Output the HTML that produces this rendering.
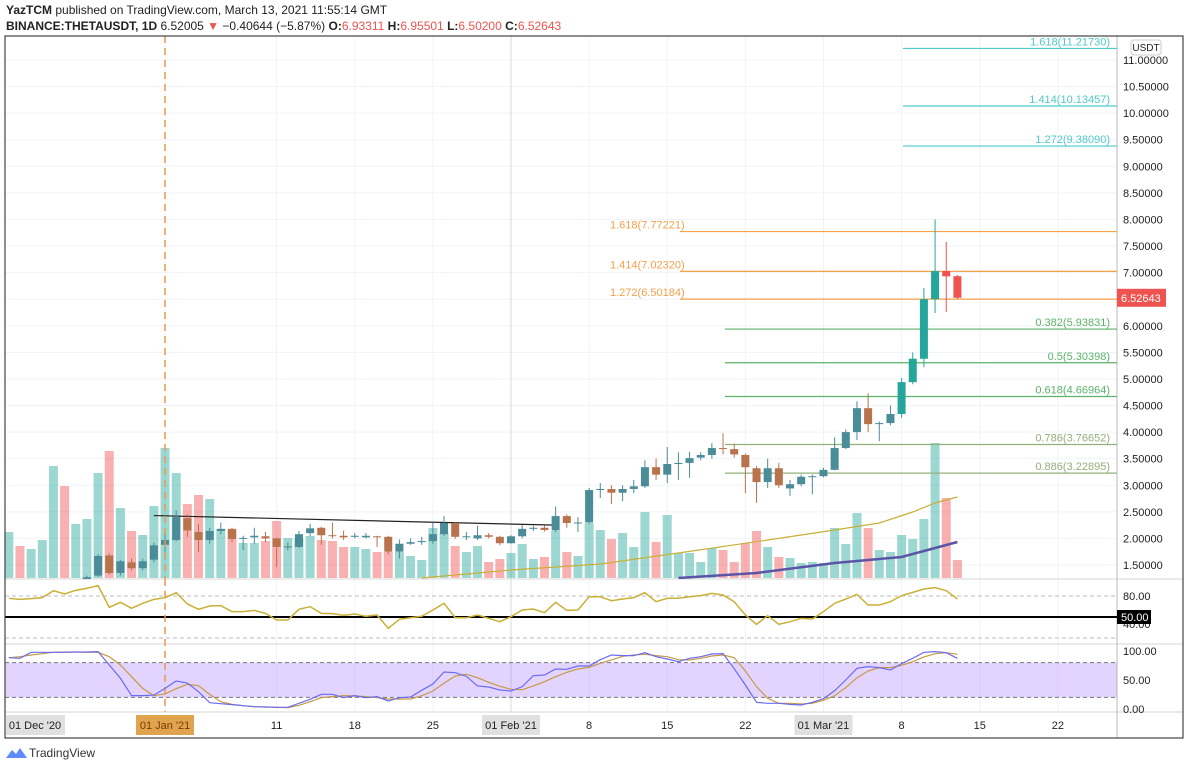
<!DOCTYPE html>
<html><head><meta charset="utf-8">
<style>
body{margin:0;background:#fff;width:1186px;height:768px;overflow:hidden;font-family:"Liberation Sans",sans-serif;}
svg{display:block}
text{font-family:"Liberation Sans",sans-serif}
</style></head>
<body>
<svg id="chart" width="1186" height="768" viewBox="0 0 1186 768">
  <text x="6" y="14" font-size="12" fill="#222"><tspan font-weight="bold">YazTCM</tspan> published on TradingView.com, March 13, 2021 11:55:14 GMT</text>
  <text x="6" y="30" font-size="12" fill="#222"><tspan font-weight="bold">BINANCE:THETAUSDT, 1D</tspan> 6.52005 <tspan fill="#ef5350">▼</tspan> −0.40644 (−5.87%) <tspan font-weight="bold">O:</tspan><tspan fill="#ef5350">6.93311</tspan> <tspan font-weight="bold">H:</tspan><tspan fill="#ef5350">6.95501</tspan> <tspan font-weight="bold">L:</tspan><tspan fill="#ef5350">6.50200</tspan> <tspan font-weight="bold">C:</tspan><tspan fill="#ef5350">6.52643</tspan></text>
  <defs>
    <clipPath id="mainClip"><rect x="5" y="36" width="1112" height="543"/></clipPath>
    <clipPath id="paneClip"><rect x="5" y="36" width="1112" height="676"/></clipPath>
  </defs>
  <g id="grid"></g>
  <g id="stochBand"></g>
  <g id="volume" clip-path="url(#mainClip)"></g>
  <g id="fibs" clip-path="url(#mainClip)"></g>
  <g id="candles" clip-path="url(#mainClip)"></g>
  <g id="indicators" clip-path="url(#paneClip)"></g>
  <g id="axes"></g>
  <rect x="5" y="36" width="1178" height="702" fill="none" stroke="#444" stroke-width="1.2"/>
  <g>
    <path d="M6 758 L12 750 L16 754 L20 748 L27 758 Z" fill="#2962ff" opacity="0.75"/>
    <text x="29" y="757" font-size="12" fill="#333">TradingView</text>
  </g>
</svg>
<script>
const opens=[1.05,1.10,1.06,1.08,1.12,1.18,1.15,1.22,1.30,1.68,1.35,1.55,1.44,1.60,1.88,1.97,2.38,2.12,1.97,2.14,2.18,2.00,2.02,2.04,2.00,1.84,1.84,2.10,2.20,2.06,2.05,2.03,2.02,2.04,2.03,1.75,1.90,1.93,1.95,2.08,2.29,2.03,2.00,2.06,2.03,1.91,2.04,2.18,2.20,2.15,2.42,2.29,2.30,2.91,2.93,2.86,2.93,2.98,3.34,3.20,3.40,3.42,3.52,3.57,3.70,3.68,3.57,3.32,3.06,3.32,2.94,3.02,3.16,3.17,3.29,3.70,4.00,4.45,4.15,4.17,4.34,4.94,5.38,6.50,7.03,6.933];
const highs=[1.15,1.18,1.12,1.15,1.22,1.24,1.22,1.30,1.70,1.72,1.60,1.62,1.62,1.92,2.10,2.53,2.45,2.27,2.20,2.30,2.20,2.05,2.20,2.12,2.01,1.92,2.14,2.27,2.22,2.30,2.15,2.10,2.10,2.05,2.05,1.98,2.00,2.03,2.30,2.42,2.30,2.12,2.24,2.10,2.05,2.06,2.25,2.24,2.24,2.60,2.45,2.40,2.95,3.04,3.00,3.00,3.10,3.47,3.50,3.72,3.62,3.63,3.62,3.79,3.98,3.78,3.60,3.36,3.50,3.42,3.10,3.20,3.20,3.33,3.90,4.05,4.58,4.73,4.20,4.50,5.02,5.50,6.71,8.00,7.58,6.955];
const lows=[0.98,1.02,1.00,1.03,1.08,1.10,1.10,1.18,1.28,1.32,1.30,1.40,1.40,1.55,1.60,1.95,2.03,1.74,1.90,2.08,1.93,1.78,1.90,1.93,1.46,1.78,1.82,2.04,1.88,2.00,1.97,2.00,2.00,1.84,1.70,1.62,1.88,1.88,1.90,2.05,1.99,1.97,1.97,2.00,1.87,1.90,2.00,2.14,2.13,2.12,2.20,2.12,2.28,2.76,2.65,2.70,2.85,2.95,3.10,3.04,3.10,3.14,3.47,3.50,3.58,3.52,2.85,2.67,2.95,2.95,2.80,2.98,2.83,3.15,3.28,3.68,3.85,4.00,3.83,4.13,4.27,4.90,5.22,6.24,6.26,6.502];
const closes=[1.10,1.06,1.08,1.12,1.18,1.15,1.20,1.27,1.67,1.35,1.57,1.44,1.57,1.87,1.97,2.40,2.15,1.97,2.14,2.18,1.99,2.01,2.05,2.00,1.84,1.85,2.08,2.19,2.06,2.05,2.02,2.05,2.05,2.03,1.75,1.90,1.93,1.95,2.08,2.29,2.03,2.04,2.06,2.03,1.91,2.04,2.18,2.20,2.16,2.42,2.29,2.30,2.91,2.93,2.86,2.93,2.98,3.34,3.20,3.40,3.42,3.51,3.57,3.70,3.69,3.58,3.34,3.06,3.32,3.00,3.02,3.16,3.17,3.29,3.70,4.00,4.45,4.15,4.17,4.34,4.94,5.38,6.50,7.03,6.93,6.52643];
const volumes=[46,32,29,38,112,92,54,59,105,127,70,47,43,72,130,105,74,83,79,49,49,35,35,37,57,40,40,42,38,37,31,31,29,26,26,26,22,18,50,45,32,26,32,16,19,25,34,19,21,47,26,22,55,48,39,45,31,66,36,63,25,25,16,30,28,16,35,47,31,21,20,15,16,15,50,34,65,50,28,26,43,39,59,135,80,18];
const volMaSlowIdx=[37,45,53,60,68,74,78,81,83,85];
const volMaSlowVal=[0,8,14,25,38,48,55,66,75,81];
const volMaFastIdx=[60,67,74,77,80,85];
const volMaFastVal=[0,5,15,18,21,36];
const rsiValues=[76.7,75.2,76.2,77.6,87.6,82.9,88.1,91,94.8,63.8,71,62.4,69.5,75.2,77.6,84.8,68.6,61,65.7,66.2,57.6,57.6,59.5,55.2,45.7,45.7,61,64.8,55.2,54.8,52.4,54.3,51,52.9,33.8,46.7,49,51,60,69.5,49,49,52.9,48.1,43.3,50.5,60,61.4,56.2,71,59.5,60,79,79,73.3,75.7,77.6,84.8,71.9,76.7,76.7,79,80.5,83.8,81.4,71.9,52.9,39.5,51.9,39.5,43.3,48.1,47.1,57.6,69.5,75.7,82.4,67.1,67.1,71.9,80.5,85.2,90,91.9,87.6,75.7];
const stochK=[88.5,87.4,97.7,97.7,97.7,97.7,98.3,98.3,98.9,75.9,53,23,23,24,35.6,48.3,44.8,29.9,10.9,9.2,7.5,5.7,4,3.4,2.9,2.9,9.8,16.7,25.3,25.3,19.5,23,19.5,21.3,13.8,19.5,20.7,32.2,43.1,63.8,62.6,56.3,39.7,37.9,32.8,31,38.5,57.5,58.6,69,68.4,74.1,74.1,85,93.1,92,92,97.1,90.2,86.2,81.6,87.4,90.2,94.8,95.4,69.5,41.4,11.5,9.8,9.8,8,6.9,11.5,17.8,31.6,50,70.1,73,71.3,67.2,78.2,87.4,97.7,98.9,97.1,87.4];
const stochD=[88.5,90.2,93.1,95.4,97.7,98.3,98.3,97.7,97.7,90.2,75.9,55.7,35.6,23,25.9,35.1,42.5,40.2,25.3,12.6,8,5.7,4,3.4,2.9,2.3,6.3,12.6,19.5,21.3,23,22.4,21.3,19.5,17.2,17.2,17.2,23,31,44.3,56.9,59.8,54,46,39.1,33.9,33.3,39.7,47.1,55.7,63.2,69,71.8,78.7,84.5,90.8,93.1,94.3,92,90.2,85,84.5,87.4,91.4,93.1,88.5,65.5,38.5,18.4,9.8,9.8,8.6,9.8,14.9,23,36.8,54,65.5,71.3,71.3,75.3,81.6,89.7,95.4,97.1,94.3];
const priceTicks=[1.5,2,2.5,3,3.5,4,4.5,5,5.5,6,6.5,7,7.5,8,8.5,9,9.5,10,10.5,11];
const fibCyanVals=[11.2173,10.13457,9.3809];
const fibCyanLabels=["1.618(11.21730)","1.414(10.13457)","1.272(9.38090)"];
const fibOrangeVals=[7.77221,7.0232,6.50184];
const fibOrangeLabels=["1.618(7.77221)","1.414(7.02320)","1.272(6.50184)"];
const fibGreenVals=[5.93831,5.30398,4.66964,3.76652,3.22895];
const fibGreenLabels=["0.382(5.93831)","0.5(5.30398)","0.618(4.66964)","0.786(3.76652)","0.886(3.22895)"];
const timeTickIdx=[14,24,31,38,45,52,59,66,73,80,87,94];
const timeTickLabels=["01 Jan '21","11","18","25","01 Feb '21","8","15","22","01 Mar '21","8","15","22"];
const trendStart=[13,2.43],trendEnd=[49,2.25];

const NS="http://www.w3.org/2000/svg";
const xOf=i=>8.8+i*11.16;
const yP=p=>565-(p-1.5)*53.16;
const volBase=578, volScale=1.0;
const yV=v=>volBase-v*volScale;
const rsiY=v=>617-(v-50)*0.7;
const stY=v=>709-v*0.58;
function mk(parent,tag,attrs){const e=document.createElementNS(NS,tag);for(const k in attrs)e.setAttribute(k,attrs[k]);document.getElementById(parent).appendChild(e);return e;}

// grid
priceTicks.forEach(p=>{const l=mk('grid','line',{x1:5,x2:1117,y1:yP(p),y2:yP(p),stroke:'#f0f3fa','stroke-width':1});

});
timeTickIdx.forEach((ti,k)=>{const x=xOf(ti);const l=mk('grid','line',{x1:x,x2:x,y1:36,y2:712,stroke:k===4?'#d8d8d8':'#f0f3fa','stroke-width':1});

});
// pane separators
[[579],[644],[712]].forEach(a=>{const l=mk('grid','line',{x1:5,x2:1183,y1:a[0],y2:a[0],stroke:'#d6d6d6','stroke-width':1});

});
{const l=mk('grid','line',{x1:1117,x2:1117,y1:36,y2:738,stroke:'#bbb','stroke-width':1});

}

// stoch band
{const r=mk('stochBand','rect',{x:5,y:stY(80),width:1112,height:stY(20)-stY(80),fill:'rgba(155,100,255,0.28)'});


[80,20].forEach(v=>{const l=mk('stochBand','line',{x1:5,x2:1117,y1:stY(v),y2:stY(v),stroke:'#777','stroke-dasharray':'4 3'});

});
[80,20].forEach(v=>{const l=mk('stochBand','line',{x1:5,x2:1117,y1:rsiY(v),y2:rsiY(v),stroke:'#bbb','stroke-dasharray':'4 3'});

});
const m=mk('stochBand','line',{x1:5,x2:1117,y1:rsiY(50),y2:rsiY(50),stroke:'#000','stroke-width':2});

}

// volume
volumes.forEach((v,i)=>{const up=closes[i]>=opens[i];const x=xOf(i);
const r=mk('volume','rect',{x:x-4.5,y:yV(v),width:9,height:v*volScale,fill:up?'rgba(38,166,154,0.45)':'rgba(239,83,80,0.45)'});

});
function polyFrom(idx,vals,fn){return idx.map((ix,k)=>xOf(ix)+','+fn(vals[k])).join(' ');}
{const p=mk('volume','polyline',{points:polyFrom(volMaSlowIdx,volMaSlowVal,yV),fill:'none',stroke:'#c9b036','stroke-width':1.2});


const q=mk('volume','polyline',{points:polyFrom(volMaFastIdx,volMaFastVal,yV),fill:'none',stroke:'#5b55a8','stroke-width':2.5});

}

// fibs
function fib(vals,labels,x1,color,labelMode){vals.forEach((v,k)=>{const y=yP(v);
const l=mk('fibs','line',{x1:x1,x2:1117,y1:y,y2:y,stroke:color,'stroke-width':1.2});


const t=mk('fibs','text',{x:labelMode==='left'?610:1110,y:y-3,'font-size':11,fill:color,'text-anchor':labelMode==='left'?'start':'end'});
t.textContent=labels[k];

});}
fib(fibCyanVals,fibCyanLabels,903,'#4fc9c9','right');
fib(fibOrangeVals,fibOrangeLabels,680,'#f5a04a','left');
fib(fibGreenVals.slice(0,3),fibGreenLabels.slice(0,3),725,'#5cb36a','right');
fib(fibGreenVals.slice(3),fibGreenLabels.slice(3),725,'#93b07a','right');

// trendline
{const l=mk('candles','line',{x1:xOf(trendStart[0]),y1:yP(trendStart[1]),x2:xOf(trendEnd[0]),y2:yP(trendEnd[1]),stroke:'#222','stroke-width':1.2});

}
// candles
opens.forEach((o,i)=>{const c=closes[i],up=c>=o,x=xOf(i);
const col=i>=80?(up?'#26a69a':'#ef5350'):(up?'#4a8c98':'#b8724c');
const w=mk('candles','line',{x1:x,x2:x,y1:yP(highs[i]),y2:yP(lows[i]),stroke:col,'stroke-width':1});


const top=yP(Math.max(o,c)),bot=yP(Math.min(o,c));
const b=mk('candles','rect',{x:x-4,y:top,width:8,height:Math.max(1,bot-top),fill:col});

});

// Jan 1 marker
{const l=mk('candles','line',{x1:165,x2:165,y1:36,y2:579,stroke:'#e8994a','stroke-width':1.5,'stroke-dasharray':'7 5'});


const l2=mk('indicators','line',{x1:165,x2:165,y1:579,y2:712,stroke:'#e8994a','stroke-width':1.5,'stroke-dasharray':'7 5'});

}

// indicators
function series(vals,fn){return vals.map((v,i)=>xOf(i)+','+fn(v)).join(' ');}
{const r=mk('indicators','polyline',{points:series(rsiValues,rsiY),fill:'none',stroke:'#c9b036','stroke-width':1.5});


const d=mk('indicators','polyline',{points:series(stochD,stY),fill:'none',stroke:'#c59a45','stroke-width':1.2});


const k=mk('indicators','polyline',{points:series(stochK,stY),fill:'none',stroke:'#6b6bf0','stroke-width':1.2});

}

// price axis labels
priceTicks.forEach(p=>{const t=mk('axes','text',{x:1123,y:yP(p)+4,'font-size':11,fill:'#222'});
t.textContent=p.toFixed(5);

});
{const b=mk('axes','rect',{x:1131,y:40,width:30,height:15,rx:3,fill:'#fff',stroke:'#ccc'});


const t=mk('axes','text',{x:1146,y:51,'font-size':10,fill:'#222','text-anchor':'middle'});t.textContent='USDT';

}
{const last=closes[closes.length-1];const y=yP(last);
const b=mk('axes','rect',{x:1117,y:y-9,width:49,height:18,fill:'#ef5350'});


const t=mk('axes','text',{x:1121,y:y+4,'font-size':11,fill:'#fff'});t.textContent=last.toFixed(5);

}
[[80,'80.00'],[40,'40.00']].forEach(a=>{const t=mk('axes','text',{x:1123,y:rsiY(a[0])+4,'font-size':11,fill:'#222'});t.textContent=a[1];

});
{const b=mk('axes','rect',{x:1117,y:rsiY(50)-7,width:34,height:14,fill:'#000'});


const t=mk('axes','text',{x:1121,y:rsiY(50)+4,'font-size':11,fill:'#fff'});t.textContent='50.00';

}
[[100,'100.00'],[50,'50.00'],[0,'0.00']].forEach(a=>{const t=mk('axes','text',{x:1123,y:stY(a[0])+4,'font-size':11,fill:'#222'});t.textContent=a[1];

});

// time axis
{const b=mk('axes','rect',{x:6,y:715,width:59,height:20,fill:'#e0e0e0'});


const t=mk('axes','text',{x:35,y:729,'font-size':11,fill:'#222','text-anchor':'middle'});t.textContent="01 Dec '20";

}
timeTickIdx.forEach((ti,k)=>{const x=xOf(ti);const lab=timeTickLabels[k];
if(x>1110)return;
if(lab.length>3){const b=mk('axes','rect',{x:x-29,y:715,width:58,height:20,fill:k===0?'#e0a44f':'#e0e0e0'});

}
const t=mk('axes','text',{x:x,y:729,'font-size':11,fill:k===0?'#7a3b00':'#222','text-anchor':'middle'});t.textContent=lab;

});
</script>
</body></html>
